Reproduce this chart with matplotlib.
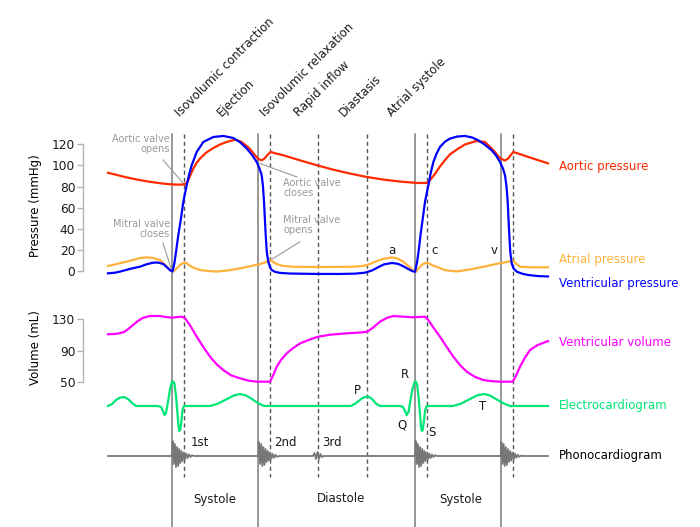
import matplotlib
matplotlib.use("Agg")
import matplotlib.pyplot as plt

# ---------------- data (time axis in arbitrary units) ----------------
solid_events = [172, 258, 415, 501]          # valve events (mitral closes / aortic closes)
dashed_events = [184, 270, 318, 367, 427, 513]

phase_names = ["Isovolumic contraction", "Ejection", "Isovolumic relaxation",
               "Rapid inflow", "Diastasis", "Atrial systole"]
phase_pos = [182, 224, 267, 301, 346, 394]

aortic_t = [108, 115, 125, 135, 145, 155, 165, 172, 178, 184, 187.3, 190, 193.3, 196.7, 200,
            206, 213.3, 220, 226.7, 235, 241, 246.7, 251, 255, 258.5, 261.7, 264.5, 267, 270.7,
            276, 283.3, 300, 316.7, 333, 350, 366, 383.3, 400, 416.7, 426.7, 429, 431.7, 435,
            440, 445, 450, 458.3, 465, 476, 485, 490, 495, 498.3, 501.7, 505, 508, 510.5, 513.3,
            520, 528.3, 538, 548]
aortic_p = [93, 91.4, 89, 87, 85.2, 83.8, 82.6, 82, 81.8, 82, 83.8, 90, 97, 102.5, 106.5,
            112, 116.5, 119.8, 122.2, 124.4, 122.5, 118.4, 114.5, 109.6, 106, 104.9, 106.5, 109.5, 112.7,
            111.3, 109.6, 104.8, 100.2, 96, 92.3, 89.2, 86.6, 84.7, 83.4, 83.4, 85, 88, 92,
            99, 105, 110.5, 116, 119.8, 123.1, 122.2, 117.5, 112.7, 108.5, 106, 104.6, 106.5, 109.5, 112.7,
            110.7, 108, 105, 102]

vent_t = [108, 115, 120, 130, 140, 147, 153.3, 158, 163.3, 167, 170, 172.5, 174.5, 176.3, 178.3,
          181, 183.3, 186.7, 189, 191.7, 196.7, 203.3, 213.3, 223.3, 233.3, 240, 246.7, 252, 256.7,
          259.5, 261.7, 263, 264, 265.7, 266.8, 268.3, 270, 271.7, 275, 280, 290, 318, 340, 355,
          365, 372, 378, 384, 392, 398, 403.3, 408, 412, 415, 417, 418.8, 420.5, 422.8, 425,
          428.3, 430.5, 433.3, 436.5, 440, 445, 450, 457, 465, 472, 478.3, 485, 491.7, 496, 500,
          503, 505, 506.5, 507.7, 509.3, 510.3, 511.7, 513.5, 516.7, 522, 528.3, 538, 548]
vent_p = [-2.2, -1.6, -0.6, 2, 4.1, 6.5, 7.9, 8, 6.6, 3.5, 0.8, -0.5, 8, 20, 34,
          50, 65.5, 81.3, 91, 100.2, 112.7, 122.2, 126.9, 127.9, 126, 122, 116, 110, 103.3,
          97, 90.7, 80, 65.5, 34, 18, 8.8, 3.5, 1, -0.8, -1.8, -2.4, -2.8, -2.8, -2.5,
          -1.6, 0.5, 3.5, 6.3, 7.6, 6.8, 4.5, 2, 0, -0.8, 8, 20, 34, 50, 65.5,
          81, 92, 103, 111, 117.5, 122.5, 125.4, 127.3, 127.9, 126.5, 123.8, 119.5, 114.3, 109.5, 103.3,
          97, 90.7, 80, 65.5, 34, 18, 7.3, 2.5, -0.6, -2.5, -3.8, -4.8, -5.2]

atrial_t = [108, 115, 120, 126.7, 135, 140, 146.7, 152, 156, 160, 164, 167, 170, 172.7, 175,
            178.3, 181, 184.3, 186.5, 189, 191.7, 196, 200, 208, 216.7, 228, 240, 250, 260, 270.7,
            274, 276.7, 282, 293.3, 310, 330, 350, 360, 366.7, 372, 378, 383.3, 391.7, 397, 403.3,
            408, 411, 413.3, 415.7, 418, 420, 423, 426.7, 429, 432, 436.7, 445, 456.7, 470, 483.3,
            498, 508, 513.3, 516, 520, 528, 536.7, 548]
atrial_p = [4.7, 6.2, 7.5, 8.8, 11, 12.3, 12.9, 12.5, 11.5, 10.4, 7, 4, 1.2, -0.6, 1,
            4, 6.5, 7.9, 7.5, 5.5, 4, 2.2, 1, 0, -0.5, 0.5, 2.5, 4.5, 6.5, 10,
            8, 6.6, 5, 4, 3.8, 3.8, 4, 4.5, 5.5, 7.5, 9.8, 11.5, 12.9, 12, 8.8,
            5, 2.5, 0.3, -1, 2, 4, 6.5, 7.9, 7.2, 5.5, 4, 0.8, -0.4, 1.5, 4,
            7, 8.8, 9.8, 7, 4, 3.6, 3.5, 3.5]

volume_t = [108, 115, 120, 124, 128, 133, 138, 143, 150, 160, 166, 172, 177, 182, 185, 190,
            196.7, 203, 210, 217, 223.3, 231, 240, 248, 256.7, 270, 273, 276.7, 281, 286.7, 293,
            300, 310, 318, 330, 346.7, 360, 367.3, 373, 380, 387, 393.3, 403, 413, 420, 425,
            428.3, 434, 440, 447, 453.3, 460, 466.7, 475, 483.3, 492, 500, 512.7, 516, 520, 525,
            530, 537, 548]
volume_ml = [110.6, 111, 112, 113.5, 117, 122.4, 127.5, 131.5, 133.8, 133.8, 132.5, 131.7, 132.5, 132.9, 131, 122,
             107.6, 95, 82.2, 72, 65.2, 58.5, 54.7, 51.8, 50.4, 50.4, 58, 69.4, 78, 86.4, 93,
             99, 104, 107.5, 110, 111.8, 112.8, 113.9, 119, 126.6, 131.5, 133.8, 133, 132.2, 132.6, 132.9,
             128.7, 118, 107.5, 94, 82.2, 71.5, 63.1, 56.5, 52.5, 51, 50.4, 50.4, 58, 69.4, 81,
             90.6, 96.5, 102]

ecg_t = [108, 112, 116, 120, 124, 128, 132, 136, 158, 161, 163, 164.5, 166, 168, 170, 172,
         173.3, 174.5, 176, 177.5, 178.5, 179.3, 180.3, 181.5, 182.5, 184, 210, 218, 226, 234,
         240, 246, 252, 258, 264, 351, 356, 361, 364, 367.3, 370, 373, 376, 380, 400, 403, 405,
         406.7, 408.5, 410.5, 412.5, 414.5, 415.7, 417, 418.5, 420, 421, 421.8, 422.8, 424,
         425.2, 426.7, 453, 461, 469, 477, 484, 490, 496, 503, 510, 548]
ecg_mv = [0, 0.08, 0.25, 0.35, 0.375, 0.29, 0.125, 0, 0, -0.04, -0.21, -0.375, -0.29, 0.17, 0.71, 1.0,
          1.02, 0.92, 0.42, -0.33, -0.83, -1.04, -1.0, -0.58, -0.17, 0, 0, 0.1, 0.27, 0.44,
          0.5, 0.44, 0.29, 0.12, 0, 0, 0.12, 0.29, 0.36, 0.39, 0.36, 0.25, 0.1, 0, 0, -0.04, -0.21,
          -0.375, -0.25, 0.25, 0.71, 0.98, 1.02, 0.92, 0.42, -0.33, -0.83, -1.04, -1.0, -0.58,
          -0.17, 0, 0, 0.1, 0.27, 0.44, 0.5, 0.44, 0.29, 0.12, 0, 0]

phono_t = [108, 172, 172.7, 173.8, 174.9, 176.0, 177.1, 178.2, 179.3, 180.4, 181.5, 182.6, 183.8,
           185.0, 186.3, 187.6, 189.0, 190.5, 192, 194, 258.3, 259, 260.1, 261.2, 262.3, 263.4,
           264.5, 265.6, 266.7, 267.8, 268.9, 270.1, 271.3, 272.6, 274, 275.5, 277, 279, 313,
           314.5, 316, 317.5, 319, 320.5, 322, 323.5, 415, 415.7, 416.8, 417.9, 419.0, 420.1,
           421.2, 422.3, 423.4, 424.5, 425.6, 426.8, 428, 429.3, 430.6, 432, 433.5, 435, 437,
           500.7, 501.4, 502.5, 503.6, 504.7, 505.8, 506.9, 508, 509.1, 510.2, 511.3, 512.5,
           513.7, 515, 516.3, 517.7, 519.2, 521, 523, 548]
phono_amp = [0, 0, 15, -8, 12, -11, 9, -10, 7, -7, 5, -5, 3.5, -3.5, 2.5, -2, 1.5, -1, 0.7, 0,
             0, 14, -8, 12, -10, 9, -9, 7, -6, 5, -4.5, 3.5, -3, 2.2, -1.8, 1.2, -0.8, 0, 0,
             3, -3, 4, -3, 2, -1, 0, 0, 15, -8, 12, -11, 9, -10, 7, -7, 5, -5, 3.5, -3.5, 2.5,
             -2, 1.5, -1, 0.7, 0, 0, 14, -8, 12, -10, 9, -9, 7, -6, 5, -4.5, 3.5, -3, 2.2,
             -1.8, 1.2, -0.8, 0.4, 0, 0]

pressure_ticks = [0, 20, 40, 60, 80, 100, 120]
volume_ticks = [50, 90, 130]

# ---------------- layout ----------------
W, H = 700, 527
fig = plt.figure(figsize=(W / 100, H / 100), dpi=100)
FONT = "DejaVu Sans"
FS = 8.5

def band(top_px, bottom_px):
    return [0, 1 - bottom_px / H, 1, (bottom_px - top_px) / H]

ax0 = fig.add_axes([0, 0, 1, 1], zorder=0)
ax0.set_xlim(0, W)
ax0.set_ylim(H, 0)
ax0.axis("off")

def data_axes(top, bottom, ylim):
    ax = fig.add_axes(band(top, bottom), zorder=2)
    ax.set_xlim(0, W)
    ax.set_ylim(*ylim)
    ax.patch.set_visible(False)
    for s in ax.spines.values():
        s.set_visible(False)
    ax.set_xticks([])
    ax.set_yticks([])
    return ax

axp = data_axes(144.3, 271, (0, 120))
axv = data_axes(319, 382, (50, 130))
axe = data_axes(382, 430, (-1, 1))
axs = data_axes(436, 476, (-20, 20))

for ax, ticks in ((axp, pressure_ticks), (axv, volume_ticks)):
    sp = ax.spines["left"]
    sp.set_visible(True)
    sp.set_position(("data", 83))
    sp.set_bounds(ticks[0], ticks[-1])
    sp.set_color("#b3b3b3")
    sp.set_linewidth(1.0)
    ax.set_yticks(ticks)
    ax.tick_params(axis="y", direction="out", length=4, width=1.0, color="#b3b3b3",
                   labelsize=FS + 0.3, labelcolor="#1a1a1a", pad=1.5)

# event lines
for x in solid_events:
    ax0.plot([x, x], [134, H], color="#7a7a7a", lw=1.1, zorder=1)
for x in dashed_events:
    ax0.plot([x, x], [134, 477], color="#555555", lw=1.0, ls=(0, (3, 2.2)), zorder=1)

LW = 1.6
axp.plot(atrial_t, atrial_p, color="#ffb13b", lw=LW, clip_on=False, zorder=3)
axp.plot(aortic_t, aortic_p, color="#ff2a00", lw=LW, clip_on=False, zorder=4)
axp.plot(vent_t, vent_p, color="#0000ff", lw=LW, clip_on=False, zorder=5)
axv.plot(volume_t, volume_ml, color="#ff00ff", lw=LW, clip_on=False)
axe.plot(ecg_t, ecg_mv, color="#00e676", lw=LW, clip_on=False)
axs.plot(phono_t, phono_amp, color="#777777", lw=1.3, clip_on=False)

# phase labels
for name, x in zip(phase_names, phase_pos):
    ax0.text(x, 119, name, rotation=45, rotation_mode="anchor", ha="left", va="bottom",
             fontsize=FS, family=FONT, color="#1a1a1a")

# right labels
right = [("Aortic pressure", 166.7, "#ff2a00"), ("Atrial pressure", 260, "#ffb13b"),
         ("Ventricular pressure", 283, "#0000ff"), ("Ventricular volume", 342, "#ff00ff"),
         ("Electrocardiogram", 405, "#00e676"), ("Phonocardiogram", 456, "#000000")]
for txt, y, c in right:
    ax0.text(559, y, txt, color=c, fontsize=FS, va="center", ha="left", family=FONT)

# axis titles
ax0.text(35, 206, "Pressure (mmHg)", rotation=90, ha="center", va="center", fontsize=FS, family=FONT)
ax0.text(35, 348, "Volume (mL)", rotation=90, ha="center", va="center", fontsize=FS, family=FONT)

# valve annotations
g = "#999999"
ax0.text(170, 134, "Aortic valve\nopens", ha="right", va="top", fontsize=7, color=g, linespacing=1.05, family=FONT)
ax0.plot([163, 183.5], [160, 183.5], color=g, lw=0.8)
ax0.text(170, 219, "Mitral valve\ncloses", ha="right", va="top", fontsize=7, color=g, linespacing=1.05, family=FONT)
ax0.plot([163, 171.5], [243, 270], color=g, lw=0.8)
ax0.text(283, 178, "Aortic valve\ncloses", ha="left", va="top", fontsize=7, color=g, linespacing=1.05, family=FONT)
ax0.plot([260, 297], [163.5, 177], color=g, lw=0.8)
ax0.text(283, 215, "Mitral valve\nopens", ha="left", va="top", fontsize=7, color=g, linespacing=1.05, family=FONT)
ax0.plot([300, 270.7], [241.7, 260], color=g, lw=0.8)

# wave letters
for t, x, y in [("a", 391.7, 250), ("c", 435, 250), ("v", 494.3, 250),
                ("P", 357, 390), ("Q", 402, 425), ("R", 405, 375), ("S", 432, 432), ("T", 483, 406)]:
    ax0.text(x, y, t, ha="center", va="center", fontsize=FS, family=FONT, color="#1a1a1a")

for t, x in [("1st", 191), ("2nd", 274), ("3rd", 322)]:
    ax0.text(x, 442, t, ha="left", va="center", fontsize=FS, family=FONT, color="#1a1a1a")

for t, x in [("Systole", 215), ("Diastole", 341), ("Systole", 461)]:
    ax0.text(x, 499, t, ha="center", va="center", fontsize=FS, family=FONT, color="#1a1a1a")

fig.savefig("out.png", dpi=100)
